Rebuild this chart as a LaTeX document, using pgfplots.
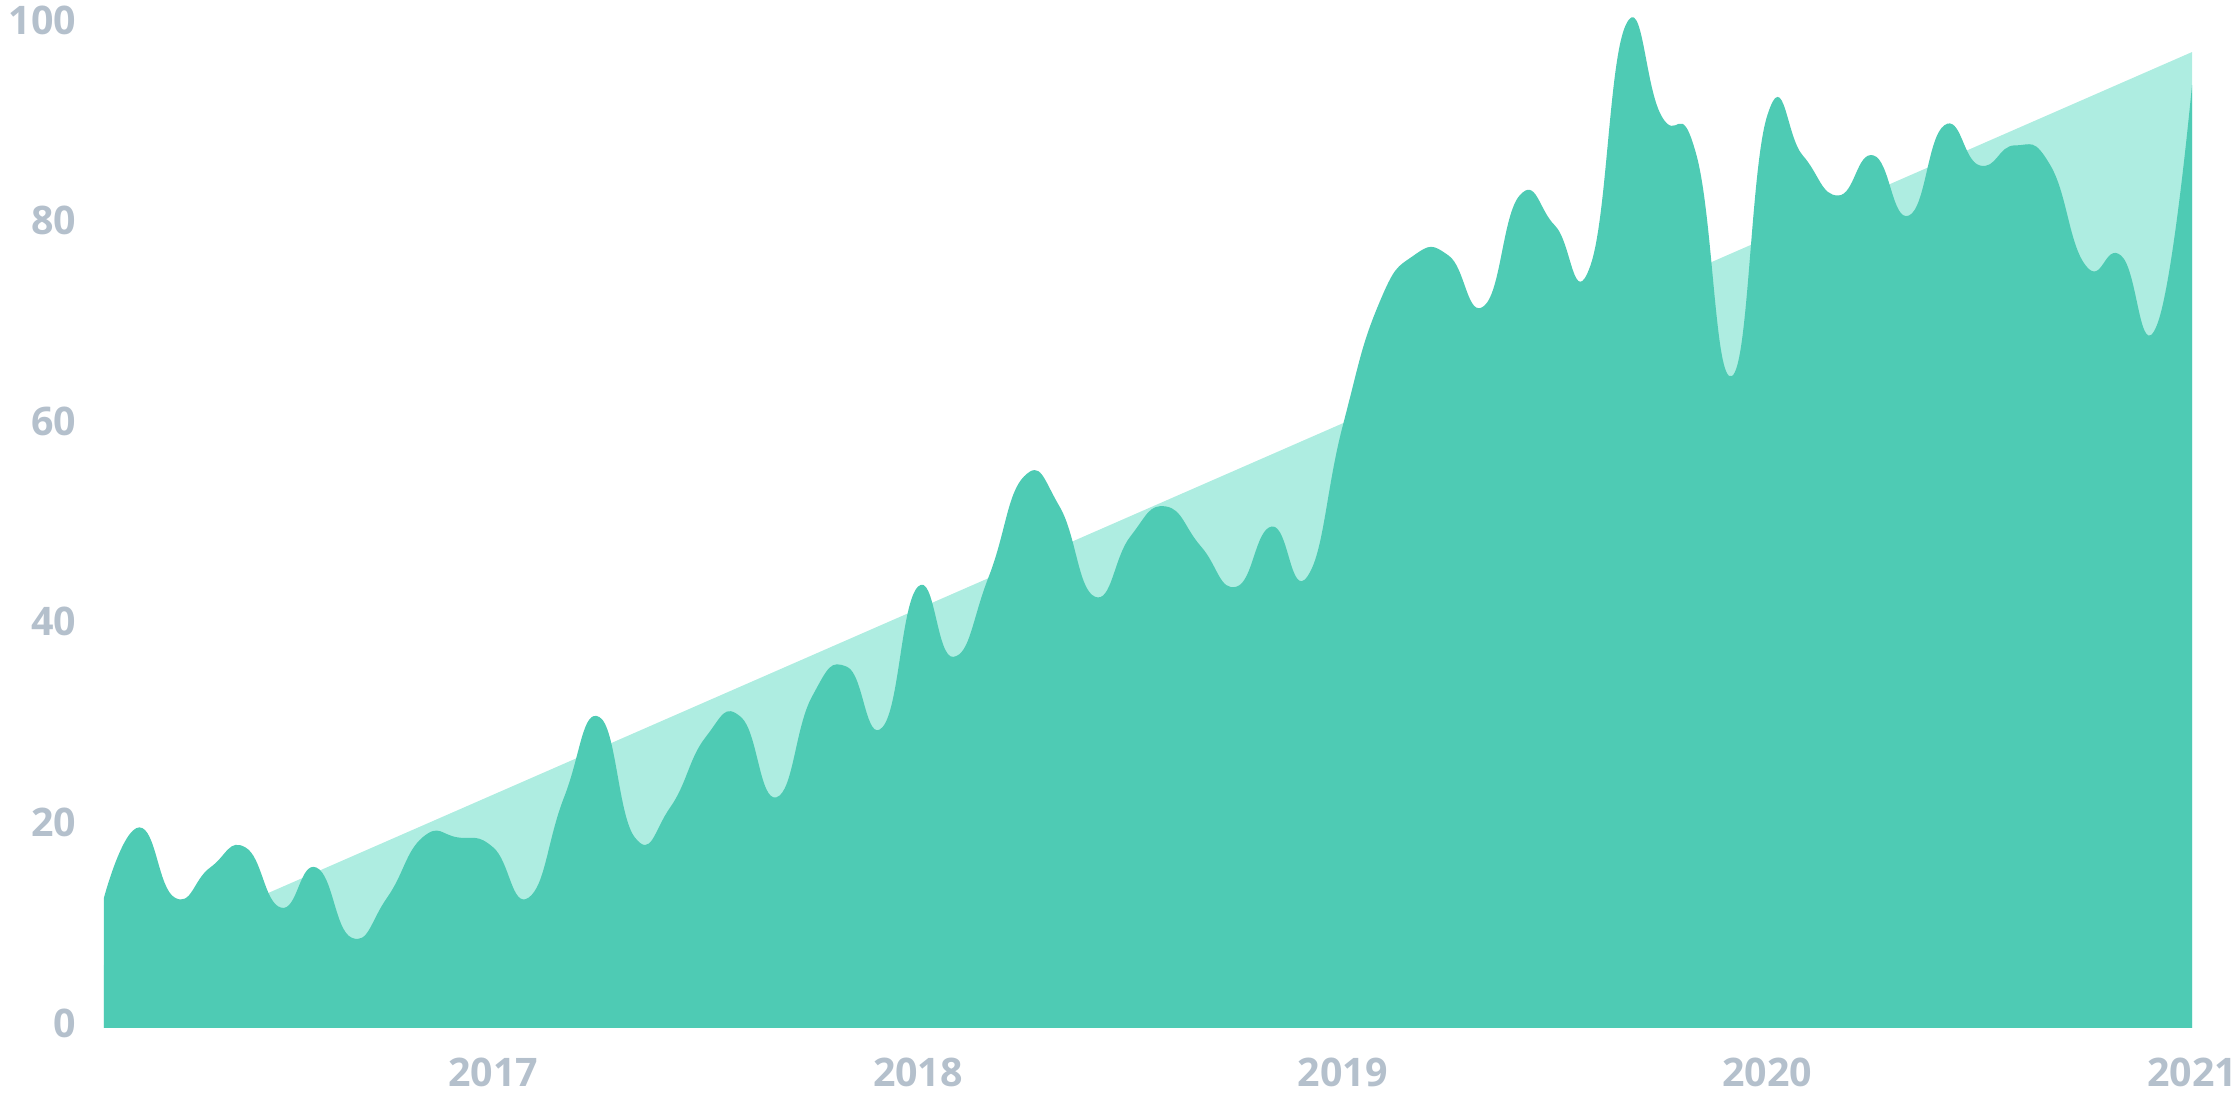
\documentclass[border=0pt]{standalone}
\usepackage{fontspec}
\setmainfont{Open Sans}
\usepackage{pgfplots}
\pgfplotsset{compat=1.18}
\definecolor{darkarea}{HTML}{4ECBB4}
\definecolor{lightarea}{HTML}{AEEDE1}
\definecolor{lab}{HTML}{B4C0CC}
\begin{document}
\begin{tikzpicture}
\begin{axis}[
  at={(1.04cm,0.92cm)}, anchor=south west,
  scale only axis, width=20.88cm, height=10.03cm,
  xmin=0, xmax=59, ymin=0, ymax=100,
  clip=false,
  axis line style={draw=none},
  major tick style={draw=none},
  minor tick style={draw=none},
  xtick={11,23,35,47,59}, xticklabels={2017,2018,2019,2020,2021},
  ytick={0,20,40,60,80,100},
  /pgf/number format/assume math mode=true,
  ticklabel style={font=\fontsize{11.2}{13}\selectfont\bfseries, text=lab, inner sep=0pt},
  yticklabel style={anchor=east, xshift=-2.7mm, yshift=0.5mm},
  xticklabel style={anchor=center, yshift=-4.4mm},
]
\addplot[fill=lightarea, draw=none] coordinates {(0,6.3) (59,97.3)} \closedcycle;
\addplot[fill=darkarea, draw=none, smooth, tension=0.85] coordinates {
(0,13) (1,20) (2,13) (3,16) (4,18) (5,12) (6,16) (7,9) (8,13) (9,19)
(10,19) (11,18) (12,13) (13,23) (14,31) (15,19) (16,22) (17,29) (18,31) (19,23)
(20,33) (21,36) (22,30) (23,44) (24,37) (25,45) (26,55) (27,52) (28,43) (29,49)
(30,52) (31,48) (32,44) (33,50) (34,45) (35,60) (36,72) (37,77) (38,77) (39,72)
(40,83) (41,80) (42,76) (43,100) (44,91) (45,87) (46,65) (47,91) (48,87) (49,83)
(50,87) (51,81) (52,90) (53,86) (54,88) (55,86) (56,76) (57,77) (58,70) (59,94)
} \closedcycle;
\end{axis}
\pgfresetboundingbox
\path[use as bounding box] (0,0) rectangle (22.4cm,11.2cm);
\end{tikzpicture}
\end{document}
